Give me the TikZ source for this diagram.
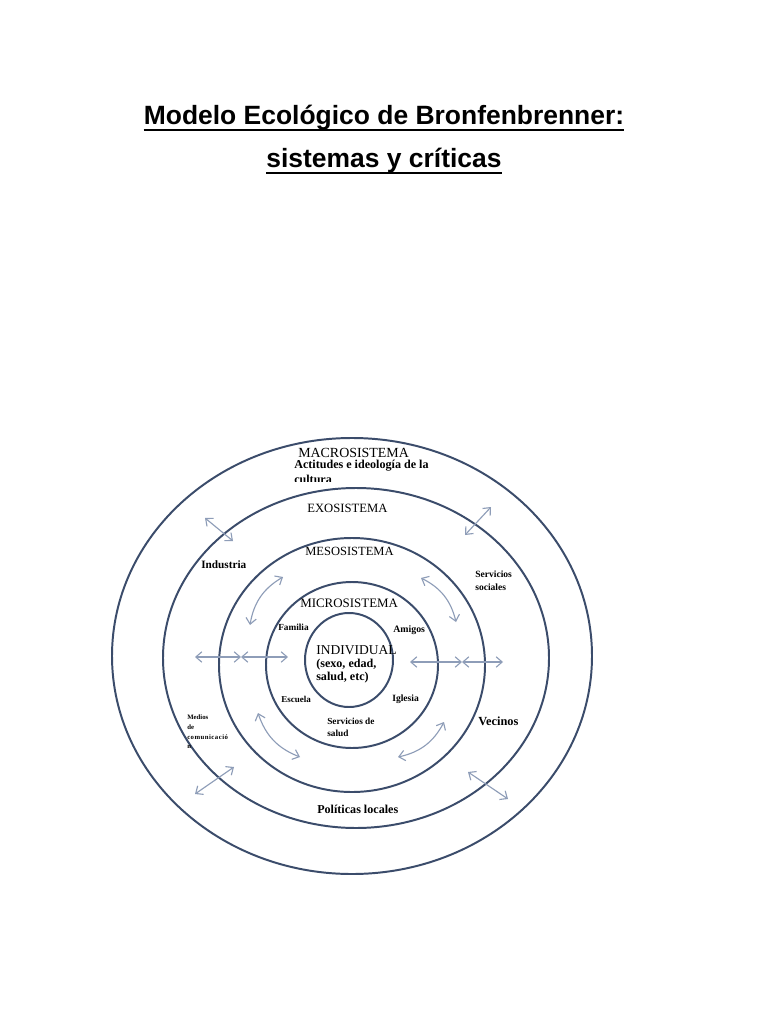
\documentclass[tikz,border=0pt]{standalone}
\usepackage{fontspec}
\setmainfont{Liberation Serif}
\newfontfamily\titlefont{Liberation Sans}
\usetikzlibrary{arrows.meta}

\definecolor{ringcol}{HTML}{3B4C6B}
\definecolor{linkcol}{HTML}{8E9DB8}

\tikzset{
    ring/.style={draw=ringcol, line width=1.4pt},
    link/.style={draw=linkcol, line width=0.8pt,
        {Straight Barb[length=1.5mm,width=2.6mm]}-{Straight Barb[length=1.5mm,width=2.6mm]}},
    sysname/.style={inner sep=0pt, anchor=west, font=\fontsize{9}{10}\selectfont},
    lbl/.style={inner sep=0pt, anchor=west, align=left, font=\bfseries\fontsize{8.6}{9.2}\selectfont},
    small lbl/.style={lbl, font=\bfseries\fontsize{6.6}{8.6}\selectfont},
    tiny lbl/.style={lbl, font=\bfseries\fontsize{4.8}{5}\selectfont},
    title/.style={inner sep=0pt, anchor=base, font=\titlefont\bfseries\fontsize{18.8}{22}\selectfont}
}

\begin{document}
\begin{tikzpicture}[x=0.025cm, y=-0.025cm]
    \fill[white] (0,0) rectangle (768,1024);
    \useasboundingbox (0,0) rectangle (768,1024);

    % title, underlined
    \node[title] (title1) at (384,125) {Modelo Ecológico de Bronfenbrenner:};
    \node[title] (title2) at (384,168) {sistemas y críticas};
    \draw[line width=1.4pt] ([yshift=-3.6pt]title1.base west) -- ([yshift=-3.6pt]title1.base east);
    \draw[line width=1.4pt] ([yshift=-3.6pt]title2.base west) -- ([yshift=-3.6pt]title2.base east);

    % the nested systems
    \draw[ring] (352,656) ellipse [x radius=240, y radius=218];
    \draw[ring] (356,658) ellipse [x radius=193, y radius=170];
    \draw[ring] (352,665) ellipse [x radius=133, y radius=127];
    \draw[ring] (352,665) ellipse [x radius=86, y radius=83];
    \draw[ring] (349,660) ellipse [x radius=44, y radius=47];

    % macrosistema
    \node[sysname, font=\fontsize{9.9}{11}\selectfont] (macro) at (298,453) {MACROSISTEMA};
    \node[lbl] (cultura) at (294,466) {Actitudes e ideología de la};
    \begin{scope}
        \clip (0,0) rectangle (768,481);
        \node[lbl] (cultura2) at (294,479) {cultura};
    \end{scope}

    % exosistema
    \node[sysname] (exo) at (307,508) {EXOSISTEMA};
    \node[lbl, font=\bfseries\fontsize{8}{9}\selectfont] (industria) at (201,565) {Industria};
    \node[small lbl, font=\bfseries\fontsize{6.8}{9.2}\selectfont] (sociales) at (475,581) {Servicios\\sociales};
    \node[lbl, font=\bfseries\fontsize{8.8}{9}\selectfont] (vecinos) at (478,721) {Vecinos};
    \node[tiny lbl] (medios1) at (187,717) {Medios};
    \node[tiny lbl] (medios2) at (187,727) {de};
    \node[tiny lbl] (medios3) at (187,737) {\addfontfeature{LetterSpace=7}comunicació};
    \node[tiny lbl] (medios4) at (187,747) {n};
    \node[lbl] (politicas) at (317,809) {Políticas locales};

    % mesosistema
    \node[sysname, font=\fontsize{8.9}{10}\selectfont] (meso) at (305,551) {MESOSISTEMA};

    % microsistema
    \node[sysname, font=\fontsize{9.2}{10}\selectfont] (micro) at (300,603) {MICROSISTEMA};
    \node[small lbl] (familia) at (278,627) {Familia};
    \node[small lbl, font=\bfseries\fontsize{7}{8}\selectfont] (amigos) at (393,630) {Amigos};
    \node[small lbl, font=\bfseries\fontsize{6.4}{8}\selectfont] (escuela) at (281,699) {Escuela};
    \node[small lbl, font=\bfseries\fontsize{6.8}{8}\selectfont] (iglesia) at (392,699) {Iglesia};
    \node[small lbl, font=\bfseries\fontsize{6.6}{8.5}\selectfont] (salud) at (327,727) {Servicios de\\salud};

    % individual
    \node[sysname, font=\fontsize{9.6}{10}\selectfont] (indiv) at (316,650) {INDIVIDUAL};
    \node[lbl, font=\bfseries\fontsize{8.6}{9.2}\selectfont] (rasgos) at (316,671) {(sexo, edad,\\salud, etc)};

    % end points of the links
    \coordinate (ul1) at (205,518);
    \coordinate (ul2) at (233,541);
    \coordinate (ur1) at (465,535);
    \coordinate (ur2) at (491,507);
    \coordinate (ll1) at (195,794);
    \coordinate (ll2) at (234,767);
    \coordinate (lr1) at (468,772);
    \coordinate (lr2) at (508,799);
    \coordinate (hl1) at (195,657);
    \coordinate (hl2) at (241,657);
    \coordinate (hl3) at (288,657);
    \coordinate (hr1) at (410,662);
    \coordinate (hr2) at (462,662);
    \coordinate (hr3) at (503,662);
    \coordinate (a1) at (283,577);
    \coordinate (a2) at (250,625);
    \coordinate (a3) at (421,578);
    \coordinate (a4) at (456,622);
    \coordinate (a5) at (258,713);
    \coordinate (a6) at (300,757);
    \coordinate (a7) at (398,757);
    \coordinate (a8) at (444,722);

    % straight links across the rings
    \draw[link] (ul1) -- (ul2);
    \draw[link] (ur1) -- (ur2);
    \draw[link] (ll1) -- (ll2);
    \draw[link] (lr1) -- (lr2);
    \draw[link] (hl1) -- (hl2);
    \draw[link] (hl2) -- (hl3);
    \draw[link] (hr1) -- (hr2);
    \draw[link] (hr2) -- (hr3);

    % curved links in the mesosistema
    \draw[link] (a1) to[bend right=25] (a2);
    \draw[link] (a3) to[bend left=25] (a4);
    \draw[link] (a5) to[bend right=25] (a6);
    \draw[link] (a7) to[bend right=25] (a8);
\end{tikzpicture}
\end{document}
